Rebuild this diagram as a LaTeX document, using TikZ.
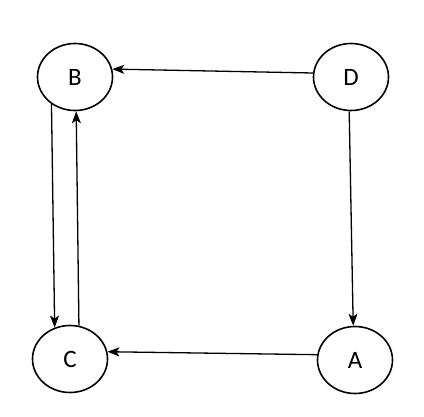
\documentclass[tikz,border=0pt]{standalone}
\usepackage{fontspec}
\setmainfont{Carlito}
\usepackage{tikz}
\usetikzlibrary{arrows.meta, shapes.geometric}

\tikzset{
  state/.style={ellipse, draw, line width=1.6pt, minimum width=75pt, minimum height=67pt,
    inner sep=0pt, font=\fontsize{25}{30}\selectfont},
  link/.style={-{Stealth[length=12pt,width=9pt,inset=3pt]}, line width=1.3pt}
}

\begin{document}
\begin{tikzpicture}[x=1pt, y=-1pt]
\useasboundingbox (0,0) rectangle (424,416);

\node[state] (B) at (75,77)  {B} ;
\node[state] (D) at (351,77) {D} ;
\node[state] (C) at (70,359) {C} ;
\node[state] (A) at (355,360) {A} ;

\draw[link] (D.174) -- (B.12);
\draw[link] (B.229) -- (C.116);
\draw[link] (C.75) -- (B.272);
\draw[link] (D.267) -- (A.93);
\draw[link] (A.172) -- (C.11);

\end{tikzpicture}
\end{document}
